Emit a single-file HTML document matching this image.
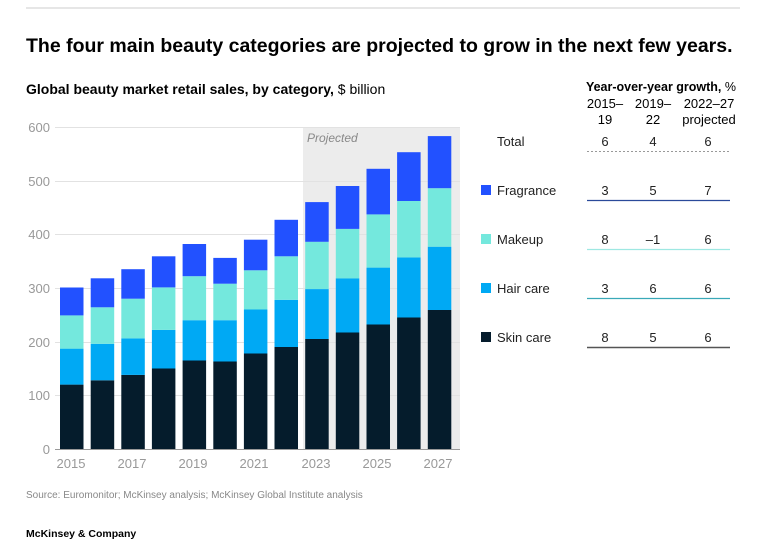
<!DOCTYPE html>
<html><head><meta charset="utf-8"><style>
body{margin:0;background:#fff;width:768px;height:543px;overflow:hidden;font-family:"Liberation Sans",sans-serif;}
</style></head><body>
<svg width="768" height="543" xmlns="http://www.w3.org/2000/svg" font-family="Liberation Sans, sans-serif">
<line x1="26" y1="8" x2="740" y2="8" stroke="#ccc" stroke-width="1"/>
<text x="26" y="52" font-size="19.5" font-weight="bold" fill="#000">The four main beauty categories are projected to grow in the next few years.</text>
<text x="26" y="94" font-size="14" fill="#000"><tspan font-weight="bold">Global beauty market retail sales, by category,</tspan> $ billion</text>
<rect x="303" y="127" width="157" height="322" fill="#ececec"/>
<text x="307" y="142" font-size="12" font-style="italic" fill="#888">Projected</text>
<g stroke="#e2e2e2" stroke-width="1">
<line x1="55" y1="127.5" x2="460" y2="127.5"/><line x1="55" y1="181.5" x2="460" y2="181.5"/>
<line x1="55" y1="234.5" x2="460" y2="234.5"/><line x1="55" y1="288.5" x2="460" y2="288.5"/>
<line x1="55" y1="342.5" x2="460" y2="342.5"/><line x1="55" y1="395.5" x2="460" y2="395.5"/>
</g>
<line x1="55" y1="449.5" x2="460" y2="449.5" stroke="#999"/>
<g font-size="13" fill="#999" text-anchor="end">
<text x="50" y="132">600</text><text x="50" y="186">500</text><text x="50" y="239">400</text>
<text x="50" y="293">300</text><text x="50" y="347">200</text><text x="50" y="400">100</text><text x="50" y="454">0</text>
</g>
<g id="bars"></g>
<g font-size="13" fill="#999" text-anchor="middle">
<text x="71" y="468">2015</text><text x="132" y="468">2017</text><text x="193" y="468">2019</text>
<text x="254" y="468">2021</text><text x="316" y="468">2023</text><text x="377" y="468">2025</text><text x="438" y="468">2027</text>
</g>
<text x="26" y="498" font-size="10" fill="#888">Source: Euromonitor; McKinsey analysis; McKinsey Global Institute analysis</text>
<text x="26" y="537" font-size="10.5" font-weight="bold" fill="#000">McKinsey &amp; Company</text>

<text x="736" y="91" font-size="12.5" text-anchor="end" fill="#000"><tspan font-weight="bold">Year-over-year growth,</tspan> %</text>
<g font-size="13" fill="#000" text-anchor="middle">
<text x="605" y="108">2015–</text><text x="605" y="124">19</text>
<text x="653" y="108">2019–</text><text x="653" y="124">22</text>
<text x="709" y="108">2022–27</text><text x="709" y="124">projected</text>
</g>
<g font-size="13" fill="#222">
<text x="497" y="146">Total</text>
<text x="497" y="195">Fragrance</text>
<text x="497" y="244">Makeup</text>
<text x="497" y="293">Hair care</text>
<text x="497" y="342">Skin care</text>
</g>
<rect x="481" y="185" width="10" height="10" fill="#2251ff"/>
<rect x="481" y="234" width="10" height="10" fill="#74e8dd"/>
<rect x="481" y="283" width="10" height="10" fill="#00a9f4"/>
<rect x="481" y="332" width="10" height="10" fill="#051c2c"/>
<g font-size="13" fill="#222" text-anchor="middle">
<text x="605" y="146">6</text><text x="653" y="146">4</text><text x="708" y="146">6</text>
<text x="605" y="195">3</text><text x="653" y="195">5</text><text x="708" y="195">7</text>
<text x="605" y="244">8</text><text x="653" y="244">–1</text><text x="708" y="244">6</text>
<text x="605" y="293">3</text><text x="653" y="293">6</text><text x="708" y="293">6</text>
<text x="605" y="342">8</text><text x="653" y="342">5</text><text x="708" y="342">6</text>
</g>
<line x1="587" y1="151.5" x2="730" y2="151.5" stroke="#999" stroke-dasharray="2,2"/>
<line x1="587" y1="200.5" x2="730" y2="200.5" stroke="#2a4a9a" stroke-width="1.2"/>
<line x1="587" y1="249.5" x2="730" y2="249.5" stroke="#9ee8e2" stroke-width="1.2"/>
<line x1="587" y1="298.5" x2="730" y2="298.5" stroke="#3aa9b8" stroke-width="1.2"/>
<line x1="587" y1="347.5" x2="730" y2="347.5" stroke="#555" stroke-width="1.5"/>
</svg>
<script>
var d=[[120,187,249,301],[128,196,264,318],[138,206,280,335],[150,222,301,359],[165,240,322,382],[163,240,308,356],[178,260,333,390],[190,278,359,427],[205,298,386,460],[217,318,410,490],[232,338,437,522],[245,357,462,553],[259,377,486,583]];
var c=["#051c2c","#00a9f4","#74e8dd","#2251ff"];var s="";
d.forEach(function(v,i){var x=60+i*30.65,p=0;v.forEach(function(t,k){var y0=449-p*0.5367,y1=449-t*0.5367;s+='<rect x="'+x.toFixed(1)+'" y="'+y1.toFixed(1)+'" width="23.5" height="'+(y0-y1).toFixed(1)+'" fill="'+c[k]+'"/>';p=t;});});
document.getElementById("bars").innerHTML=s;
</script>
</body></html>
